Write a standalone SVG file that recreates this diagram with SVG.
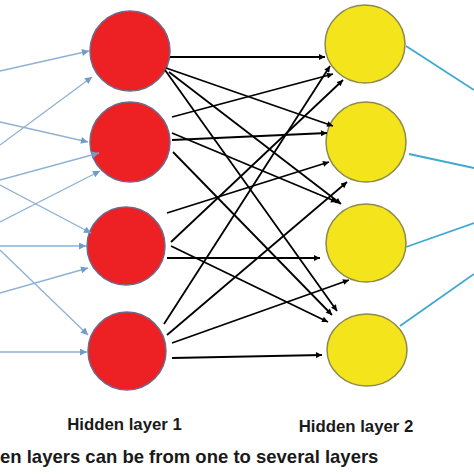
<svg xmlns="http://www.w3.org/2000/svg" width="474" height="474" viewBox="0 0 474 474">
<style>
.red{fill:#ed2024;stroke:#6e6a8c;stroke-width:1.5}
.yel{fill:#f4e41c;stroke:#8c8a4c;stroke-width:1.5}
.blk{stroke:#000;stroke-width:1.8;fill:none;marker-end:url(#ab)}
.inp{stroke:#8fb1d4;stroke-width:1.3;fill:none;marker-end:url(#ai)}
.out{stroke:#3fa8d2;stroke-width:1.8;fill:none}
.lbl{font-family:"Liberation Sans",Arial,sans-serif;font-weight:bold;fill:#1a1a1a}
</style>
<defs>
<marker id="ab" viewBox="0 0 10 10" refX="10" refY="5" markerWidth="9" markerHeight="6" markerUnits="userSpaceOnUse" orient="auto"><path d="M0,0L10,5L0,10z" fill="#000"/></marker>
<marker id="ai" viewBox="0 0 10 10" refX="10" refY="5" markerWidth="9" markerHeight="7" markerUnits="userSpaceOnUse" orient="auto"><path d="M0,0L10,5L0,10z" fill="#6f9cc9"/></marker>
</defs>
<rect width="474" height="474" fill="#fff"/>
<g id="hidden1">
<g id="h1n1"><circle class="red" cx="130" cy="51" r="40"/></g>
<g id="h1n2"><circle class="red" cx="130" cy="142" r="40"/></g>
<g id="h1n3"><circle class="red" cx="126" cy="246" r="39"/></g>
<g id="h1n4"><circle class="red" cx="127" cy="351" r="39"/></g>
</g>
<g id="hidden2">
<g id="h2n1"><ellipse class="yel" cx="365" cy="44" rx="40" ry="39"/></g>
<g id="h2n2"><ellipse class="yel" cx="366" cy="142" rx="40" ry="40"/></g>
<g id="h2n3"><ellipse class="yel" cx="366" cy="243" rx="40" ry="39"/></g>
<g id="h2n4"><ellipse class="yel" cx="367" cy="350" rx="40" ry="36"/></g>
</g>
<g id="connectors">
<g id="inputs">
<line class="inp" x1="0" y1="71" x2="89" y2="51"/>
<line class="inp" x1="0" y1="145" x2="92" y2="77"/>
<line class="inp" x1="0" y1="122" x2="88" y2="142"/>
<line class="inp" x1="0" y1="180" x2="99" y2="153"/>
<line class="inp" x1="0" y1="222" x2="100" y2="171"/>
<line class="inp" x1="0" y1="185" x2="91" y2="233"/>
<line class="inp" x1="0" y1="246" x2="86" y2="246"/>
<line class="inp" x1="0" y1="293" x2="88" y2="268"/>
<line class="inp" x1="0" y1="250" x2="88" y2="335"/>
<line class="inp" x1="0" y1="352" x2="87" y2="352"/>
</g>
<g id="between">
<line class="blk" x1="170" y1="57" x2="325" y2="57"/>
<line class="blk" x1="166" y1="68" x2="333" y2="126"/>
<line class="blk" x1="169" y1="72" x2="341" y2="204"/>
<line class="blk" x1="165" y1="70" x2="337" y2="311"/>
<line class="blk" x1="172" y1="117" x2="333" y2="74"/>
<line class="blk" x1="172" y1="140" x2="327" y2="133"/>
<line class="blk" x1="172" y1="133" x2="337" y2="202"/>
<line class="blk" x1="173" y1="152" x2="332" y2="315"/>
<line class="blk" x1="171" y1="242" x2="343" y2="80"/>
<line class="blk" x1="167" y1="213" x2="329" y2="162"/>
<line class="blk" x1="167" y1="258" x2="320" y2="258"/>
<line class="blk" x1="171" y1="246" x2="328" y2="322"/>
<line class="blk" x1="164" y1="324" x2="330" y2="66"/>
<line class="blk" x1="167" y1="335" x2="347" y2="182"/>
<line class="blk" x1="172" y1="343" x2="349" y2="280"/>
<line class="blk" x1="172" y1="358" x2="322" y2="355"/>
</g>
<g id="outputs">
<line class="out" x1="406" y1="46" x2="474" y2="90"/>
<line class="out" x1="409" y1="154" x2="474" y2="168"/>
<line class="out" x1="406" y1="247" x2="474" y2="223"/>
<line class="out" x1="400" y1="326" x2="474" y2="274"/>
</g>
</g>
<g id="labels">
<text class="lbl" x="124.5" y="430" font-size="16.8" text-anchor="middle">Hidden layer 1</text>
<text class="lbl" x="356" y="432" font-size="16.8" text-anchor="middle">Hidden layer 2</text>
<text class="lbl" x="0" y="463" font-size="18.5">en layers can be from one to several layers</text>
</g>
</svg>
